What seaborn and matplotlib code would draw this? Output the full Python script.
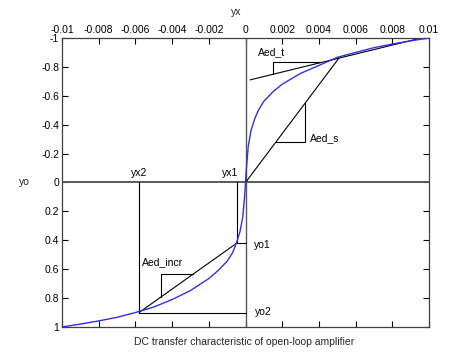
import matplotlib
import matplotlib.pyplot as plt
import seaborn as sns

matplotlib.use("Agg")

# blue transfer curve
curve_x = [-0.01, -0.009, -0.008, -0.007, -0.006, -0.005, -0.004, -0.003, -0.002,
           -0.0015, -0.001, -0.0007, -0.0005, -0.0003, -0.00015, -0.00005, 0.0,
           0.00005, 0.00015, 0.0003, 0.0005, 0.0007, 0.001, 0.0015, 0.002,
           0.003, 0.004, 0.005, 0.006, 0.007, 0.008, 0.009, 0.01]
curve_y = [1.0, 0.98, 0.958, 0.933, 0.9, 0.862, 0.81, 0.748, 0.665,
           0.61, 0.545, 0.485, 0.42, 0.34, 0.24, 0.1, 0.0,
           -0.1, -0.25, -0.36, -0.44, -0.5, -0.562, -0.628, -0.68,
           -0.755, -0.81, -0.866, -0.9, -0.933, -0.958, -0.98, -1.0]

# operating points
yx1, yo1 = -0.00048, 0.42
yx2, yo2 = -0.0058, 0.9
xt, yt = 0.0051, -0.862

# helper lines
tangent_x = [0.00025, 0.01]
tangent_y = [-0.71, -1.013]
tri_incr_x = [-0.0046, -0.0046, -0.00288]
tri_incr_y = [0.791, 0.633, 0.633]
tri_s_x = [0.00324, 0.00324, 0.00167]
tri_s_y = [-0.548, -0.282, -0.282]
tri_t_x = [0.00152, 0.00152, 0.0041]
tri_t_y = [-0.75, -0.832, -0.832]

# annotations
labels = ["yx2", "yx1", "yo1", "yo2", "Aed_incr", "Aed_s", "Aed_t"]
label_x = [-0.00578, -0.00085, 0.0009, 0.00095, -0.0045, 0.00433, 0.00144]
label_y = [-0.069, -0.068, 0.43, 0.896, 0.55, -0.308, -0.903]

xticks = [-0.01, -0.008, -0.006, -0.004, -0.002, 0, 0.002, 0.004, 0.006, 0.008, 0.01]
xtick_labels = ["-0.01", "-0.008", "-0.006", "-0.004", "-0.002", "0",
                "0.002", "0.004", "0.006", "0.008", "0.01"]
yticks = [-1, -0.8, -0.6, -0.4, -0.2, 0, 0.2, 0.4, 0.6, 0.8, 1]
ytick_labels = ["-1", "-0.8", "-0.6", "-0.4", "-0.2", "0", "0.2", "0.4", "0.6", "0.8", "1"]

sns.set_theme(style="white")
plt.rcParams["font.family"] = ["Liberation Sans", "DejaVu Sans"]
FS = 7.5

fig = plt.figure(figsize=(4.74, 3.55), dpi=100)
ax = fig.add_axes([0.1308, 0.0789, 0.7743, 0.8141])

line_kw = dict(color="black", lw=0.8)
ax.axhline(0, color="#5a5a5a", lw=1.4, zorder=1)
ax.axvline(0, color="#5a5a5a", lw=1.0, zorder=1)
ax.plot([yx2, yx2], [0, yo2], **line_kw)
ax.plot([yx2, 0], [yo2, yo2], **line_kw)
ax.plot([yx1, yx1], [0, yo1], **line_kw)
ax.plot([yx1, 0], [yo1, yo1], **line_kw)
ax.plot([yx2, yx1], [yo2, yo1], **line_kw)
ax.plot([0, xt], [0, yt], **line_kw)
ax.plot(tangent_x, tangent_y, **line_kw)
ax.plot(tri_incr_x, tri_incr_y, **line_kw)
ax.plot(tri_s_x, tri_s_y, **line_kw)
ax.plot(tri_t_x, tri_t_y, **line_kw)

sns.lineplot(x=curve_x, y=curve_y, ax=ax, color="#3030e0", lw=1.0, sort=False,
             estimator=None, zorder=3)

for txt, lx, ly in zip(labels, label_x, label_y):
    ax.text(lx, ly, txt, fontsize=FS, ha="center", va="center", color="black")

ax.set_xlim(-0.01, 0.01)
ax.set_ylim(1, -1)
ax.set_xticks(xticks)
ax.set_xticklabels(xtick_labels)
ax.set_yticks(yticks)
ax.set_yticklabels(ytick_labels)
ax.tick_params(direction="in", length=4, width=0.8, colors="black", labelsize=FS,
               top=True, bottom=True, left=True, right=True,
               labeltop=True, labelbottom=False, pad=2)
for sp in ax.spines.values():
    sp.set_color("#404040")
    sp.set_linewidth(0.9)

ax.text(0.474, 1.09, "yx", transform=ax.transAxes, fontsize=FS, ha="center", va="center")
ax.text(-0.1035, 0.5, "yo", transform=ax.transAxes, fontsize=FS, ha="center", va="center")
ax.text(0.497, -0.052, "DC transfer characteristic of open-loop amplifier",
        transform=ax.transAxes, fontsize=FS, ha="center", va="center")

fig.savefig("out.png", dpi=100)
plt.close(fig)
